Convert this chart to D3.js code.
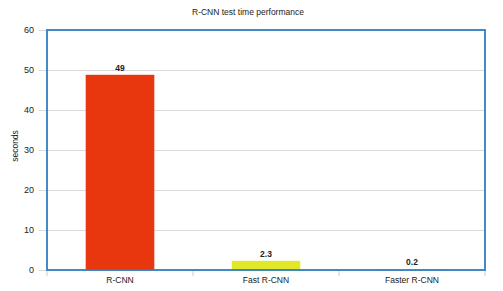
<!DOCTYPE html>
<html>
<head>
<meta charset="utf-8">
<script src="https://cdn.jsdelivr.net/npm/d3@7"></script>
<style>
  body { margin: 0; background: #fff; }
  text { font-family: "Liberation Sans", Arial, sans-serif; fill: #222; }
</style>
</head>
<body>
<div id="chart"></div>
<script>
// data
const categories = ["R-CNN", "Fast R-CNN", "Faster R-CNN"];
const seconds = [48.8, 2.3, 0.2];
const valueLabels = ["49", "2.3", "0.2"];
const barColors = ["#e8360e", "#e1e82a", "#e1e82a"];
const yTicks = [0, 10, 20, 30, 40, 50, 60];

//size
const width = 503;
const height = 291;
const margin = { top: 30, bottom: 21, left: 47, right: 18 };
const innerWidth = width - margin.left - margin.right;
const innerHeight = height - margin.top - margin.bottom;

const data = categories.map((c, i) => ({
  name: c,
  value: seconds[i],
  label: valueLabels[i],
  color: barColors[i],
}));

//scales
const xScale = d3.scaleBand().domain(categories).range([0, innerWidth]).padding(0);
const barWidth = xScale.bandwidth() * 0.47;
const yScale = d3.scaleLinear().domain([0, 60]).range([innerHeight, 0]);

const svg = d3
  .select("#chart")
  .append("svg")
  .attr("width", width)
  .attr("height", height);

svg
  .append("text")
  .attr("x", 248)
  .attr("y", 15)
  .attr("text-anchor", "middle")
  .attr("font-size", 8.5)
  .text("R-CNN test time performance");

const g = svg.append("g").attr("transform", `translate(${margin.left},${margin.top})`);

// grid + y axis (ticks stick out 8px left of the frame)
g.append("g")
  .attr("transform", "translate(-8,0)")
  .call(d3.axisLeft(yScale).tickValues(yTicks).tickSize(0).tickPadding(5))
  .call((ax) => {
    ax.select(".domain").remove();
    ax.selectAll(".tick line")
      .attr("x1", 0)
      .attr("x2", innerWidth + 8)
      .attr("stroke", "#d9d9d9")
      .attr("stroke-width", 1.2);
    ax.selectAll("text").attr("font-size", 9).attr("fill", "#222");
  });

// bars
g.selectAll("rect.bar")
  .data(data)
  .join("rect")
  .attr("class", "bar")
  .attr("x", (d) => xScale(d.name) + (xScale.bandwidth() - barWidth) / 2)
  .attr("y", (d) => yScale(d.value))
  .attr("width", barWidth)
  .attr("height", (d) => innerHeight - yScale(d.value))
  .attr("fill", (d) => d.color);

g.selectAll("text.val")
  .data(data)
  .join("text")
  .attr("class", "val")
  .attr("text-anchor", "middle")
  .attr("font-size", 8.5)
  .attr("font-weight", "bold")
  .attr("x", (d) => xScale(d.name) + xScale.bandwidth() / 2)
  .attr("y", (d) => yScale(d.value) - 4)
  .text((d) => d.label);

// x axis
g.append("g")
  .attr("transform", `translate(0,${innerHeight})`)
  .call(d3.axisBottom(xScale).tickSize(0).tickPadding(7))
  .call((ax) => {
    ax.select(".domain").remove();
    ax.selectAll("text").attr("font-size", 8.5).attr("fill", "#222");
  });

// category dividers below axis
const dividers = categories.map((c) => xScale(c)).concat([innerWidth]);
g.selectAll("line.div")
  .data(dividers)
  .join("line")
  .attr("class", "div")
  .attr("x1", (d) => d)
  .attr("x2", (d) => d)
  .attr("y1", innerHeight)
  .attr("y2", innerHeight + 6)
  .attr("stroke", "#ccc");

// frame
g.append("rect")
  .attr("x", 0)
  .attr("y", 0)
  .attr("width", innerWidth)
  .attr("height", innerHeight)
  .attr("fill", "none")
  .attr("stroke", "#2f7fc1")
  .attr("stroke-width", 1.8);

// y label
svg
  .append("text")
  .attr("transform", `translate(17.5,${margin.top + innerHeight / 2 - 4}) rotate(-90)`)
  .attr("text-anchor", "middle")
  .attr("font-size", 8.5)
  .text("seconds");
</script>
</body>
</html>
